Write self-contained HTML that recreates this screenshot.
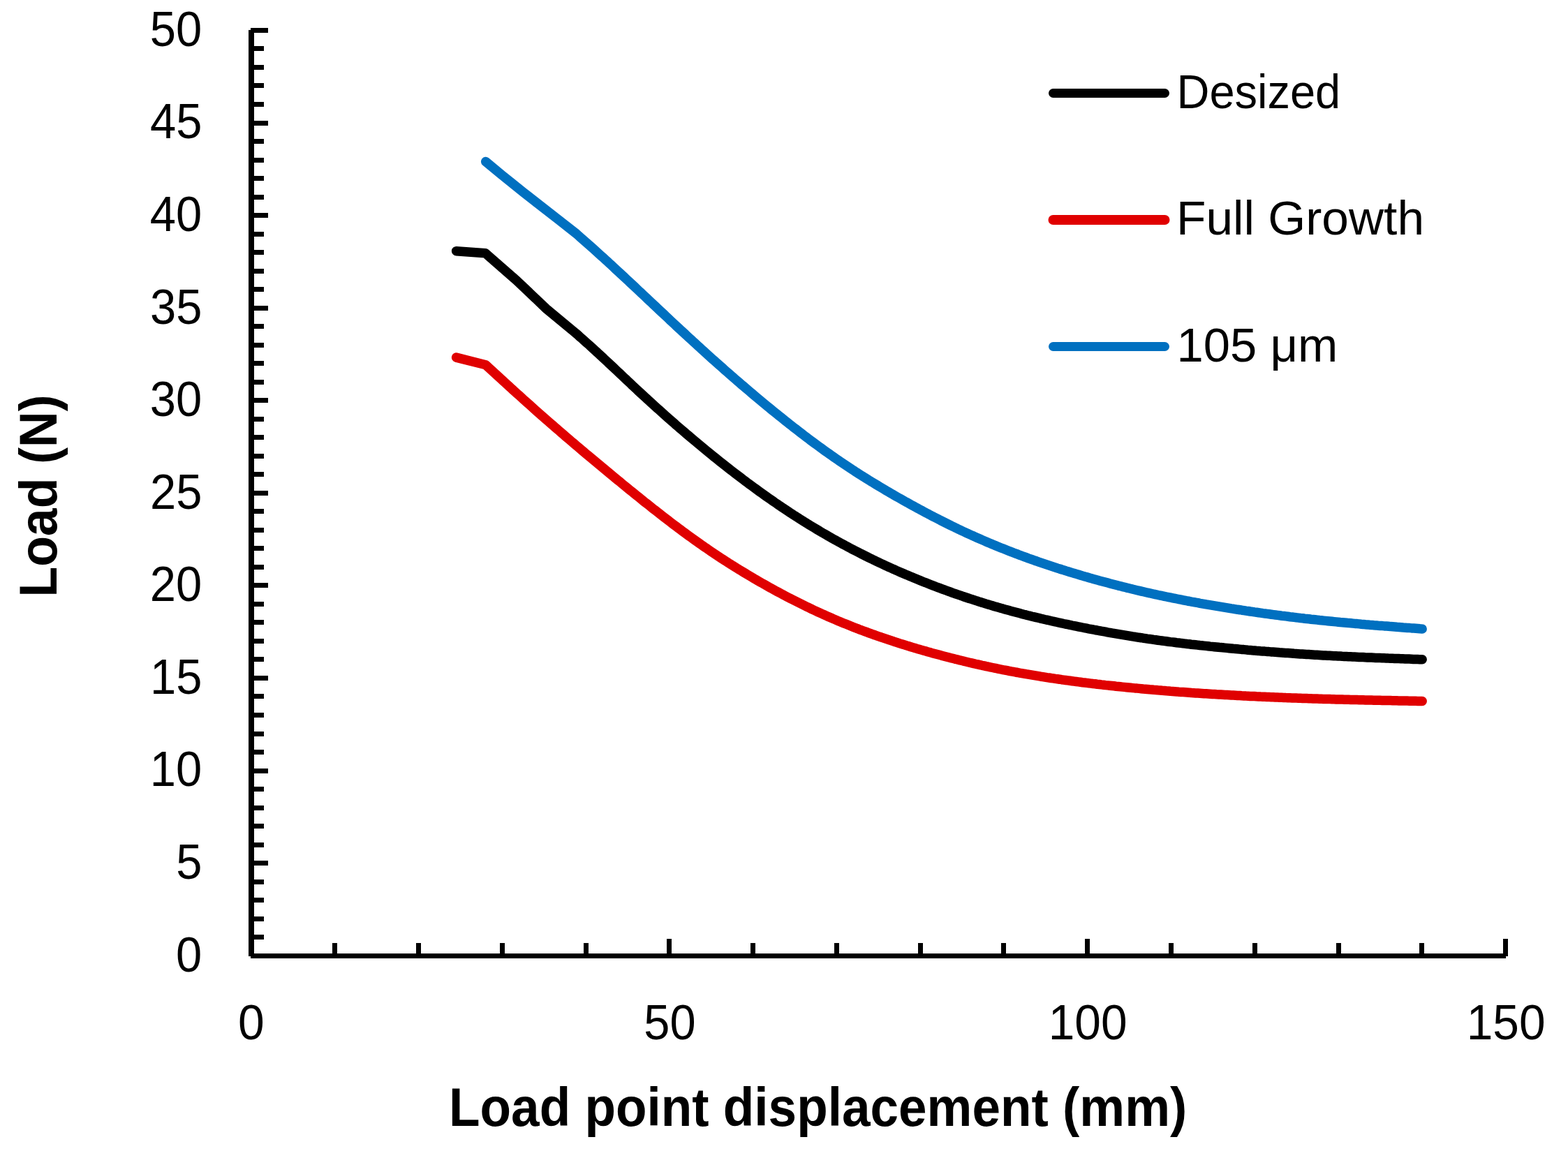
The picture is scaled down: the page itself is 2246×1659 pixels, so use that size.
<!DOCTYPE html>
<html><head><meta charset="utf-8"><title>Load vs load point displacement</title>
<style>
html,body{margin:0;padding:0;background:#fff;}
body{width:2246px;height:1659px;overflow:hidden;}
svg{display:block;}
</style></head>
<body>
<svg width="2246" height="1659" viewBox="0 0 2246 1659">
<rect width="2246" height="1659" fill="#fff"/>
<g fill="#000" shape-rendering="crispEdges"><rect x="356" y="43" width="8" height="1327"/><rect x="359" y="1366" width="1798" height="7"/><rect x="359" y="1339" width="19" height="7"/><rect x="359" y="1313" width="19" height="7"/><rect x="359" y="1286" width="19" height="7"/><rect x="359" y="1260" width="19" height="7"/><rect x="359" y="1233" width="25" height="7"/><rect x="359" y="1207" width="19" height="7"/><rect x="359" y="1180" width="19" height="7"/><rect x="359" y="1154" width="19" height="7"/><rect x="359" y="1127" width="19" height="7"/><rect x="359" y="1101" width="25" height="7"/><rect x="359" y="1074" width="19" height="7"/><rect x="359" y="1048" width="19" height="7"/><rect x="359" y="1021" width="19" height="7"/><rect x="359" y="994" width="19" height="7"/><rect x="359" y="968" width="25" height="7"/><rect x="359" y="941" width="19" height="7"/><rect x="359" y="915" width="19" height="7"/><rect x="359" y="888" width="19" height="7"/><rect x="359" y="862" width="19" height="7"/><rect x="359" y="835" width="25" height="7"/><rect x="359" y="809" width="19" height="7"/><rect x="359" y="782" width="19" height="7"/><rect x="359" y="756" width="19" height="7"/><rect x="359" y="729" width="19" height="7"/><rect x="359" y="703" width="25" height="7"/><rect x="359" y="676" width="19" height="7"/><rect x="359" y="650" width="19" height="7"/><rect x="359" y="623" width="19" height="7"/><rect x="359" y="597" width="19" height="7"/><rect x="359" y="570" width="25" height="7"/><rect x="359" y="544" width="19" height="7"/><rect x="359" y="517" width="19" height="7"/><rect x="359" y="491" width="19" height="7"/><rect x="359" y="464" width="19" height="7"/><rect x="359" y="438" width="25" height="7"/><rect x="359" y="411" width="19" height="7"/><rect x="359" y="385" width="19" height="7"/><rect x="359" y="358" width="19" height="7"/><rect x="359" y="332" width="19" height="7"/><rect x="359" y="305" width="25" height="7"/><rect x="359" y="279" width="19" height="7"/><rect x="359" y="252" width="19" height="7"/><rect x="359" y="226" width="19" height="7"/><rect x="359" y="199" width="19" height="7"/><rect x="359" y="173" width="25" height="7"/><rect x="359" y="146" width="19" height="7"/><rect x="359" y="119" width="19" height="7"/><rect x="359" y="93" width="19" height="7"/><rect x="359" y="66" width="19" height="7"/><rect x="359" y="40" width="25" height="7"/><rect x="476" y="1351" width="7" height="19"/><rect x="596" y="1351" width="7" height="19"/><rect x="716" y="1351" width="7" height="19"/><rect x="836" y="1351" width="7" height="19"/><rect x="955" y="1345" width="7" height="25"/><rect x="1075" y="1351" width="7" height="19"/><rect x="1195" y="1351" width="7" height="19"/><rect x="1315" y="1351" width="7" height="19"/><rect x="1434" y="1351" width="7" height="19"/><rect x="1554" y="1345" width="7" height="25"/><rect x="1674" y="1351" width="7" height="19"/><rect x="1794" y="1351" width="7" height="19"/><rect x="1914" y="1351" width="7" height="19"/><rect x="2033" y="1351" width="7" height="19"/><rect x="2153" y="1345" width="7" height="25"/></g>
<path d="M653.6 359.7 695.4 362.8 740.0 401.8 782.7 442.5 824.5 477.1 827.5 479.7 830.5 482.4 833.5 485.0 836.5 487.7 839.5 490.4 842.5 493.0 845.5 495.7 848.5 498.5 851.5 501.2 854.5 504.0 857.5 506.7 860.5 509.5 863.5 512.3 866.5 515.1 869.5 517.9 872.5 520.7 875.5 523.5 878.5 526.3 881.5 529.1 884.5 532.0 887.5 534.8 890.5 537.6 893.5 540.5 896.5 543.3 899.5 546.1 902.5 548.9 905.5 551.8 908.5 554.6 911.5 557.4 914.5 560.2 917.5 563.0 920.5 565.8 923.5 568.5 926.5 571.3 929.5 574.0 932.5 576.8 935.5 579.5 938.5 582.2 941.5 584.9 944.5 587.6 947.5 590.3 950.5 593.0 953.5 595.7 956.5 598.3 959.5 601.0 962.5 603.6 965.5 606.2 968.5 608.9 971.5 611.5 974.5 614.1 977.5 616.6 980.5 619.2 983.5 621.8 986.5 624.3 989.5 626.9 992.5 629.4 995.5 631.9 998.5 634.4 1001.5 636.9 1004.5 639.4 1007.5 641.9 1010.5 644.4 1013.5 646.9 1016.5 649.3 1019.5 651.7 1022.5 654.2 1025.5 656.6 1028.5 659.0 1031.5 661.4 1034.5 663.8 1037.5 666.1 1040.5 668.5 1043.5 670.8 1046.5 673.2 1049.5 675.5 1052.5 677.8 1055.5 680.1 1058.5 682.4 1061.5 684.7 1064.5 687.0 1067.5 689.2 1070.5 691.5 1073.5 693.7 1076.5 695.9 1079.5 698.1 1082.5 700.3 1085.5 702.5 1088.5 704.7 1091.5 706.8 1094.5 709.0 1097.5 711.1 1100.5 713.2 1103.5 715.3 1106.5 717.4 1109.5 719.5 1112.5 721.5 1115.5 723.6 1118.5 725.6 1121.5 727.7 1124.5 729.7 1127.5 731.7 1130.5 733.7 1133.5 735.6 1136.5 737.6 1139.5 739.5 1142.5 741.4 1145.5 743.4 1148.5 745.3 1151.5 747.1 1154.5 749.0 1157.5 750.9 1160.5 752.7 1163.5 754.5 1166.5 756.3 1169.5 758.1 1172.5 759.9 1175.5 761.7 1178.5 763.5 1181.5 765.2 1184.5 766.9 1187.5 768.7 1190.5 770.4 1193.5 772.1 1196.5 773.7 1199.5 775.4 1202.5 777.0 1205.5 778.7 1208.5 780.3 1211.5 781.9 1214.5 783.5 1217.5 785.1 1220.5 786.7 1223.5 788.3 1226.5 789.8 1229.5 791.3 1232.5 792.9 1235.5 794.4 1238.5 795.9 1241.5 797.4 1244.5 798.9 1247.5 800.3 1250.5 801.8 1253.5 803.2 1256.5 804.7 1259.5 806.1 1262.5 807.5 1265.5 808.9 1268.5 810.3 1271.5 811.7 1274.5 813.0 1277.5 814.4 1280.5 815.7 1283.5 817.1 1286.5 818.4 1289.5 819.7 1292.5 821.0 1295.5 822.3 1298.5 823.6 1301.5 824.8 1304.5 826.1 1307.5 827.3 1310.5 828.6 1313.5 829.8 1316.5 831.0 1319.5 832.3 1322.5 833.5 1325.5 834.6 1328.5 835.8 1331.5 837.0 1334.5 838.2 1337.5 839.3 1340.5 840.5 1343.5 841.6 1346.5 842.7 1349.5 843.8 1352.5 844.9 1355.5 846.0 1358.5 847.1 1361.5 848.2 1364.5 849.3 1367.5 850.3 1370.5 851.4 1373.5 852.4 1376.5 853.4 1379.5 854.5 1382.5 855.5 1385.5 856.5 1388.5 857.5 1391.5 858.4 1394.5 859.4 1397.5 860.4 1400.5 861.3 1403.5 862.3 1406.5 863.2 1409.5 864.1 1412.5 865.1 1415.5 866.0 1418.5 866.9 1421.5 867.8 1424.5 868.7 1427.5 869.5 1430.5 870.4 1433.5 871.3 1436.5 872.1 1439.5 873.0 1442.5 873.8 1445.5 874.6 1448.5 875.4 1451.5 876.2 1454.5 877.0 1457.5 877.8 1460.5 878.6 1463.5 879.4 1466.5 880.2 1469.5 880.9 1472.5 881.7 1475.5 882.4 1478.5 883.2 1481.5 883.9 1484.5 884.6 1487.5 885.3 1490.5 886.1 1493.5 886.8 1496.5 887.5 1499.5 888.1 1502.5 888.8 1505.5 889.5 1508.5 890.2 1511.5 890.8 1514.5 891.5 1517.5 892.2 1520.5 892.8 1523.5 893.5 1526.5 894.1 1529.5 894.7 1532.5 895.3 1535.5 896.0 1538.5 896.6 1541.5 897.2 1544.5 897.8 1547.5 898.4 1550.5 899.0 1553.5 899.6 1556.5 900.2 1559.5 900.8 1562.5 901.3 1565.5 901.9 1568.5 902.5 1571.5 903.0 1574.5 903.6 1577.5 904.2 1580.5 904.7 1583.5 905.2 1586.5 905.8 1589.5 906.3 1592.5 906.9 1595.5 907.4 1598.5 907.9 1601.5 908.4 1604.5 908.9 1607.5 909.4 1610.5 909.9 1613.5 910.4 1616.5 910.9 1619.5 911.4 1622.5 911.9 1625.5 912.3 1628.5 912.8 1631.5 913.3 1634.5 913.7 1637.5 914.2 1640.5 914.6 1643.5 915.1 1646.5 915.5 1649.5 915.9 1652.5 916.4 1655.5 916.8 1658.5 917.2 1661.5 917.6 1664.5 918.0 1667.5 918.4 1670.5 918.8 1673.5 919.2 1676.5 919.6 1679.5 919.9 1682.5 920.3 1685.5 920.7 1688.5 921.0 1691.5 921.4 1694.5 921.8 1697.5 922.1 1700.5 922.5 1703.5 922.8 1706.5 923.2 1709.5 923.5 1712.5 923.8 1715.5 924.1 1718.5 924.5 1721.5 924.8 1724.5 925.1 1727.5 925.4 1730.5 925.7 1733.5 926.1 1736.5 926.4 1739.5 926.7 1742.5 927.0 1745.5 927.3 1748.5 927.6 1751.5 927.8 1754.5 928.1 1757.5 928.4 1760.5 928.7 1763.5 929.0 1766.5 929.3 1769.5 929.5 1772.5 929.8 1775.5 930.1 1778.5 930.4 1781.5 930.6 1784.5 930.9 1787.5 931.2 1790.5 931.4 1793.5 931.7 1796.5 931.9 1799.5 932.2 1802.5 932.4 1805.5 932.7 1808.5 932.9 1811.5 933.1 1814.5 933.4 1817.5 933.6 1820.5 933.9 1823.5 934.1 1826.5 934.3 1829.5 934.5 1832.5 934.8 1835.5 935.0 1838.5 935.2 1841.5 935.4 1844.5 935.6 1847.5 935.8 1850.5 936.0 1853.5 936.3 1856.5 936.5 1859.5 936.7 1862.5 936.9 1865.5 937.0 1868.5 937.2 1871.5 937.4 1874.5 937.6 1877.5 937.8 1880.5 938.0 1883.5 938.2 1886.5 938.3 1889.5 938.5 1892.5 938.7 1895.5 938.9 1898.5 939.0 1901.5 939.2 1904.5 939.3 1907.5 939.5 1910.5 939.7 1913.5 939.8 1916.5 940.0 1919.5 940.1 1922.5 940.3 1925.5 940.4 1928.5 940.5 1931.5 940.7 1934.5 940.8 1937.5 941.0 1940.5 941.1 1943.5 941.2 1946.5 941.4 1949.5 941.5 1952.5 941.6 1955.5 941.8 1958.5 941.9 1961.5 942.0 1964.5 942.1 1967.5 942.2 1970.5 942.4 1973.5 942.5 1976.5 942.6 1979.5 942.7 1982.5 942.8 1985.5 942.9 1988.5 943.1 1991.5 943.2 1994.5 943.3 1997.5 943.4 2000.5 943.5 2003.5 943.6 2006.5 943.7 2009.5 943.8 2012.5 943.9 2015.5 944.0 2018.5 944.1 2021.5 944.2 2024.5 944.4 2027.5 944.5 2030.5 944.6 2033.5 944.7 2036.5 944.8 2037.2 944.8" stroke="#000" stroke-width="13.5" fill="none" stroke-linecap="round" stroke-linejoin="round"/>
<path d="M653.6 512.1 695.7 522.7 698.7 525.5 701.7 528.2 704.7 531.0 707.7 533.7 710.7 536.5 713.7 539.3 716.7 542.0 719.7 544.8 722.7 547.5 725.7 550.2 728.7 553.0 731.7 555.7 734.7 558.5 737.7 561.2 740.7 563.9 743.7 566.6 746.7 569.3 749.7 572.1 752.7 574.8 755.7 577.4 758.7 580.1 761.7 582.8 764.7 585.5 767.7 588.2 770.7 590.8 773.7 593.5 776.7 596.1 779.7 598.8 782.7 601.4 785.7 604.0 788.7 606.6 791.7 609.2 794.7 611.8 797.7 614.4 800.7 617.0 803.7 619.6 806.7 622.2 809.7 624.8 812.7 627.4 815.7 629.9 818.7 632.5 821.7 635.0 824.7 637.6 827.7 640.1 830.7 642.7 833.7 645.2 836.7 647.7 839.7 650.3 842.7 652.8 845.7 655.3 848.7 657.8 851.7 660.3 854.7 662.8 857.7 665.3 860.7 667.8 863.7 670.3 866.7 672.8 869.7 675.3 872.7 677.8 875.7 680.3 878.7 682.7 881.7 685.2 884.7 687.7 887.7 690.1 890.7 692.6 893.7 695.1 896.7 697.5 899.7 700.0 902.7 702.4 905.7 704.8 908.7 707.3 911.7 709.7 914.7 712.1 917.7 714.5 920.7 717.0 923.7 719.4 926.7 721.7 929.7 724.1 932.7 726.5 935.7 728.9 938.7 731.2 941.7 733.6 944.7 735.9 947.7 738.3 950.7 740.6 953.7 742.9 956.7 745.2 959.7 747.5 962.7 749.8 965.7 752.1 968.7 754.3 971.7 756.6 974.7 758.8 977.7 761.1 980.7 763.3 983.7 765.5 986.7 767.7 989.7 769.8 992.7 772.0 995.7 774.1 998.7 776.3 1001.7 778.4 1004.7 780.5 1007.7 782.6 1010.7 784.7 1013.7 786.7 1016.7 788.8 1019.7 790.8 1022.7 792.8 1025.7 794.8 1028.7 796.8 1031.7 798.8 1034.7 800.8 1037.7 802.7 1040.7 804.6 1043.7 806.6 1046.7 808.5 1049.7 810.4 1052.7 812.2 1055.7 814.1 1058.7 816.0 1061.7 817.8 1064.7 819.6 1067.7 821.4 1070.7 823.2 1073.7 825.0 1076.7 826.8 1079.7 828.6 1082.7 830.3 1085.7 832.1 1088.7 833.8 1091.7 835.5 1094.7 837.2 1097.7 838.9 1100.7 840.6 1103.7 842.3 1106.7 843.9 1109.7 845.6 1112.7 847.2 1115.7 848.8 1118.7 850.4 1121.7 852.0 1124.7 853.6 1127.7 855.2 1130.7 856.7 1133.7 858.3 1136.7 859.8 1139.7 861.3 1142.7 862.8 1145.7 864.3 1148.7 865.8 1151.7 867.3 1154.7 868.8 1157.7 870.2 1160.7 871.6 1163.7 873.1 1166.7 874.5 1169.7 875.9 1172.7 877.3 1175.7 878.6 1178.7 880.0 1181.7 881.3 1184.7 882.7 1187.7 884.0 1190.7 885.3 1193.7 886.6 1196.7 887.9 1199.7 889.2 1202.7 890.4 1205.7 891.7 1208.7 892.9 1211.7 894.1 1214.7 895.3 1217.7 896.5 1220.7 897.7 1223.7 898.9 1226.7 900.1 1229.7 901.2 1232.7 902.4 1235.7 903.5 1238.7 904.6 1241.7 905.7 1244.7 906.8 1247.7 907.9 1250.7 909.0 1253.7 910.0 1256.7 911.1 1259.7 912.1 1262.7 913.2 1265.7 914.2 1268.7 915.2 1271.7 916.2 1274.7 917.2 1277.7 918.2 1280.7 919.2 1283.7 920.1 1286.7 921.1 1289.7 922.1 1292.7 923.0 1295.7 923.9 1298.7 924.9 1301.7 925.8 1304.7 926.7 1307.7 927.6 1310.7 928.5 1313.7 929.4 1316.7 930.2 1319.7 931.1 1322.7 932.0 1325.7 932.8 1328.7 933.7 1331.7 934.5 1334.7 935.4 1337.7 936.2 1340.7 937.0 1343.7 937.8 1346.7 938.6 1349.7 939.4 1352.7 940.2 1355.7 941.0 1358.7 941.8 1361.7 942.6 1364.7 943.3 1367.7 944.1 1370.7 944.8 1373.7 945.6 1376.7 946.3 1379.7 947.0 1382.7 947.8 1385.7 948.5 1388.7 949.2 1391.7 949.9 1394.7 950.6 1397.7 951.3 1400.7 951.9 1403.7 952.6 1406.7 953.3 1409.7 953.9 1412.7 954.6 1415.7 955.2 1418.7 955.9 1421.7 956.5 1424.7 957.1 1427.7 957.7 1430.7 958.4 1433.7 959.0 1436.7 959.6 1439.7 960.1 1442.7 960.7 1445.7 961.3 1448.7 961.9 1451.7 962.4 1454.7 963.0 1457.7 963.5 1460.7 964.1 1463.7 964.6 1466.7 965.1 1469.7 965.7 1472.7 966.2 1475.7 966.7 1478.7 967.2 1481.7 967.7 1484.7 968.2 1487.7 968.7 1490.7 969.2 1493.7 969.6 1496.7 970.1 1499.7 970.6 1502.7 971.0 1505.7 971.5 1508.7 971.9 1511.7 972.4 1514.7 972.8 1517.7 973.2 1520.7 973.7 1523.7 974.1 1526.7 974.5 1529.7 974.9 1532.7 975.3 1535.7 975.7 1538.7 976.1 1541.7 976.5 1544.7 976.9 1547.7 977.3 1550.7 977.7 1553.7 978.0 1556.7 978.4 1559.7 978.8 1562.7 979.1 1565.7 979.5 1568.7 979.8 1571.7 980.2 1574.7 980.5 1577.7 980.9 1580.7 981.2 1583.7 981.6 1586.7 981.9 1589.7 982.2 1592.7 982.5 1595.7 982.8 1598.7 983.2 1601.7 983.5 1604.7 983.8 1607.7 984.1 1610.7 984.4 1613.7 984.7 1616.7 985.0 1619.7 985.3 1622.7 985.6 1625.7 985.9 1628.7 986.1 1631.7 986.4 1634.7 986.7 1637.7 987.0 1640.7 987.2 1643.7 987.5 1646.7 987.8 1649.7 988.0 1652.7 988.3 1655.7 988.5 1658.7 988.8 1661.7 989.0 1664.7 989.3 1667.7 989.5 1670.7 989.8 1673.7 990.0 1676.7 990.3 1679.7 990.5 1682.7 990.7 1685.7 990.9 1688.7 991.2 1691.7 991.4 1694.7 991.6 1697.7 991.8 1700.7 992.0 1703.7 992.2 1706.7 992.5 1709.7 992.7 1712.7 992.9 1715.7 993.1 1718.7 993.3 1721.7 993.5 1724.7 993.7 1727.7 993.8 1730.7 994.0 1733.7 994.2 1736.7 994.4 1739.7 994.6 1742.7 994.8 1745.7 994.9 1748.7 995.1 1751.7 995.3 1754.7 995.5 1757.7 995.6 1760.7 995.8 1763.7 996.0 1766.7 996.1 1769.7 996.3 1772.7 996.5 1775.7 996.6 1778.7 996.8 1781.7 996.9 1784.7 997.1 1787.7 997.2 1790.7 997.4 1793.7 997.5 1796.7 997.6 1799.7 997.8 1802.7 997.9 1805.7 998.1 1808.7 998.2 1811.7 998.3 1814.7 998.5 1817.7 998.6 1820.7 998.7 1823.7 998.8 1826.7 999.0 1829.7 999.1 1832.7 999.2 1835.7 999.3 1838.7 999.4 1841.7 999.6 1844.7 999.7 1847.7 999.8 1850.7 999.9 1853.7 1000.0 1856.7 1000.1 1859.7 1000.2 1862.7 1000.3 1865.7 1000.4 1868.7 1000.5 1871.7 1000.6 1874.7 1000.7 1877.7 1000.8 1880.7 1000.9 1883.7 1001.0 1886.7 1001.1 1889.7 1001.2 1892.7 1001.3 1895.7 1001.4 1898.7 1001.5 1901.7 1001.5 1904.7 1001.6 1907.7 1001.7 1910.7 1001.8 1913.7 1001.9 1916.7 1002.0 1919.7 1002.0 1922.7 1002.1 1925.7 1002.2 1928.7 1002.3 1931.7 1002.3 1934.7 1002.4 1937.7 1002.5 1940.7 1002.6 1943.7 1002.6 1946.7 1002.7 1949.7 1002.8 1952.7 1002.8 1955.7 1002.9 1958.7 1003.0 1961.7 1003.0 1964.7 1003.1 1967.7 1003.2 1970.7 1003.2 1973.7 1003.3 1976.7 1003.3 1979.7 1003.4 1982.7 1003.5 1985.7 1003.5 1988.7 1003.6 1991.7 1003.6 1994.7 1003.7 1997.7 1003.8 2000.7 1003.8 2003.7 1003.9 2006.7 1003.9 2009.7 1004.0 2012.7 1004.0 2015.7 1004.1 2018.7 1004.2 2021.7 1004.2 2024.7 1004.3 2027.7 1004.3 2030.7 1004.4 2033.7 1004.4 2036.7 1004.5 2037.2 1004.5" stroke="#E00000" stroke-width="13.5" fill="none" stroke-linecap="round" stroke-linejoin="round"/>
<path d="M695.7 231.5 720.0 251.6 750.0 275.7 800.0 314.8 825.0 334.4 828.0 337.0 831.0 339.7 834.0 342.3 837.0 345.0 840.0 347.6 843.0 350.3 846.0 352.9 849.0 355.6 852.0 358.3 855.0 361.0 858.0 363.7 861.0 366.4 864.0 369.1 867.0 371.9 870.0 374.6 873.0 377.4 876.0 380.1 879.0 382.9 882.0 385.7 885.0 388.4 888.0 391.2 891.0 394.0 894.0 396.8 897.0 399.6 900.0 402.4 903.0 405.2 906.0 408.0 909.0 410.8 912.0 413.6 915.0 416.5 918.0 419.3 921.0 422.1 924.0 424.9 927.0 427.7 930.0 430.6 933.0 433.4 936.0 436.2 939.0 439.0 942.0 441.9 945.0 444.7 948.0 447.5 951.0 450.3 954.0 453.1 957.0 455.9 960.0 458.8 963.0 461.6 966.0 464.4 969.0 467.2 972.0 470.0 975.0 472.7 978.0 475.5 981.0 478.3 984.0 481.1 987.0 483.9 990.0 486.6 993.0 489.4 996.0 492.1 999.0 494.9 1002.0 497.6 1005.0 500.4 1008.0 503.1 1011.0 505.8 1014.0 508.5 1017.0 511.2 1020.0 513.9 1023.0 516.6 1026.0 519.3 1029.0 521.9 1032.0 524.6 1035.0 527.2 1038.0 529.9 1041.0 532.5 1044.0 535.1 1047.0 537.8 1050.0 540.4 1053.0 543.0 1056.0 545.6 1059.0 548.2 1062.0 550.8 1065.0 553.3 1068.0 555.9 1071.0 558.4 1074.0 561.0 1077.0 563.5 1080.0 566.1 1083.0 568.6 1086.0 571.1 1089.0 573.6 1092.0 576.1 1095.0 578.6 1098.0 581.1 1101.0 583.5 1104.0 586.0 1107.0 588.4 1110.0 590.9 1113.0 593.3 1116.0 595.7 1119.0 598.1 1122.0 600.5 1125.0 602.9 1128.0 605.3 1131.0 607.7 1134.0 610.0 1137.0 612.4 1140.0 614.7 1143.0 617.1 1146.0 619.4 1149.0 621.7 1152.0 624.0 1155.0 626.2 1158.0 628.5 1161.0 630.8 1164.0 633.0 1167.0 635.2 1170.0 637.4 1173.0 639.6 1176.0 641.8 1179.0 644.0 1182.0 646.2 1185.0 648.3 1188.0 650.4 1191.0 652.5 1194.0 654.6 1197.0 656.7 1200.0 658.8 1203.0 660.9 1206.0 662.9 1209.0 664.9 1212.0 666.9 1215.0 668.9 1218.0 670.9 1221.0 672.9 1224.0 674.8 1227.0 676.8 1230.0 678.7 1233.0 680.6 1236.0 682.5 1239.0 684.4 1242.0 686.2 1245.0 688.1 1248.0 690.0 1251.0 691.8 1254.0 693.6 1257.0 695.4 1260.0 697.2 1263.0 699.0 1266.0 700.8 1269.0 702.6 1272.0 704.3 1275.0 706.1 1278.0 707.8 1281.0 709.6 1284.0 711.3 1287.0 713.0 1290.0 714.7 1293.0 716.4 1296.0 718.1 1299.0 719.7 1302.0 721.4 1305.0 723.1 1308.0 724.7 1311.0 726.4 1314.0 728.0 1317.0 729.6 1320.0 731.2 1323.0 732.9 1326.0 734.5 1329.0 736.0 1332.0 737.6 1335.0 739.2 1338.0 740.8 1341.0 742.3 1344.0 743.8 1347.0 745.4 1350.0 746.9 1353.0 748.4 1356.0 749.9 1359.0 751.4 1362.0 752.9 1365.0 754.3 1368.0 755.8 1371.0 757.2 1374.0 758.7 1377.0 760.1 1380.0 761.5 1383.0 762.9 1386.0 764.3 1389.0 765.6 1392.0 767.0 1395.0 768.3 1398.0 769.7 1401.0 771.0 1404.0 772.3 1407.0 773.6 1410.0 774.9 1413.0 776.2 1416.0 777.5 1419.0 778.7 1422.0 780.0 1425.0 781.2 1428.0 782.5 1431.0 783.7 1434.0 784.9 1437.0 786.1 1440.0 787.3 1443.0 788.5 1446.0 789.7 1449.0 790.8 1452.0 792.0 1455.0 793.1 1458.0 794.2 1461.0 795.4 1464.0 796.5 1467.0 797.6 1470.0 798.7 1473.0 799.8 1476.0 800.8 1479.0 801.9 1482.0 803.0 1485.0 804.0 1488.0 805.1 1491.0 806.1 1494.0 807.1 1497.0 808.1 1500.0 809.1 1503.0 810.1 1506.0 811.1 1509.0 812.1 1512.0 813.1 1515.0 814.1 1518.0 815.0 1521.0 816.0 1524.0 816.9 1527.0 817.9 1530.0 818.8 1533.0 819.7 1536.0 820.6 1539.0 821.5 1542.0 822.4 1545.0 823.3 1548.0 824.2 1551.0 825.1 1554.0 826.0 1557.0 826.8 1560.0 827.7 1563.0 828.6 1566.0 829.4 1569.0 830.2 1572.0 831.1 1575.0 831.9 1578.0 832.7 1581.0 833.5 1584.0 834.3 1587.0 835.1 1590.0 835.9 1593.0 836.7 1596.0 837.5 1599.0 838.3 1602.0 839.1 1605.0 839.8 1608.0 840.6 1611.0 841.3 1614.0 842.1 1617.0 842.8 1620.0 843.5 1623.0 844.3 1626.0 845.0 1629.0 845.7 1632.0 846.4 1635.0 847.1 1638.0 847.8 1641.0 848.5 1644.0 849.2 1647.0 849.8 1650.0 850.5 1653.0 851.2 1656.0 851.8 1659.0 852.5 1662.0 853.1 1665.0 853.7 1668.0 854.4 1671.0 855.0 1674.0 855.6 1677.0 856.2 1680.0 856.8 1683.0 857.4 1686.0 858.0 1689.0 858.6 1692.0 859.2 1695.0 859.8 1698.0 860.4 1701.0 861.0 1704.0 861.5 1707.0 862.1 1710.0 862.6 1713.0 863.2 1716.0 863.7 1719.0 864.3 1722.0 864.8 1725.0 865.3 1728.0 865.9 1731.0 866.4 1734.0 866.9 1737.0 867.4 1740.0 867.9 1743.0 868.4 1746.0 868.9 1749.0 869.4 1752.0 869.9 1755.0 870.4 1758.0 870.9 1761.0 871.4 1764.0 871.9 1767.0 872.3 1770.0 872.8 1773.0 873.3 1776.0 873.7 1779.0 874.2 1782.0 874.6 1785.0 875.1 1788.0 875.5 1791.0 876.0 1794.0 876.4 1797.0 876.9 1800.0 877.3 1803.0 877.7 1806.0 878.1 1809.0 878.6 1812.0 879.0 1815.0 879.4 1818.0 879.8 1821.0 880.2 1824.0 880.6 1827.0 881.0 1830.0 881.4 1833.0 881.8 1836.0 882.2 1839.0 882.5 1842.0 882.9 1845.0 883.3 1848.0 883.7 1851.0 884.0 1854.0 884.4 1857.0 884.8 1860.0 885.1 1863.0 885.5 1866.0 885.8 1869.0 886.2 1872.0 886.5 1875.0 886.8 1878.0 887.2 1881.0 887.5 1884.0 887.8 1887.0 888.1 1890.0 888.5 1893.0 888.8 1896.0 889.1 1899.0 889.4 1902.0 889.7 1905.0 890.0 1908.0 890.3 1911.0 890.6 1914.0 890.9 1917.0 891.2 1920.0 891.5 1923.0 891.7 1926.0 892.0 1929.0 892.3 1932.0 892.6 1935.0 892.8 1938.0 893.1 1941.0 893.4 1944.0 893.6 1947.0 893.9 1950.0 894.2 1953.0 894.4 1956.0 894.7 1959.0 894.9 1962.0 895.2 1965.0 895.4 1968.0 895.7 1971.0 895.9 1974.0 896.2 1977.0 896.4 1980.0 896.6 1983.0 896.9 1986.0 897.1 1989.0 897.3 1992.0 897.6 1995.0 897.8 1998.0 898.0 2001.0 898.3 2004.0 898.5 2007.0 898.7 2010.0 899.0 2013.0 899.2 2016.0 899.4 2019.0 899.6 2022.0 899.9 2025.0 900.1 2028.0 900.3 2031.0 900.5 2034.0 900.8 2037.0 901.0 2037.2 901.0" stroke="#0070C0" stroke-width="13.5" fill="none" stroke-linecap="round" stroke-linejoin="round"/>
<path d="M1508.5 133.5H1668.5" stroke="#000" stroke-width="13.0" stroke-linecap="round"/>
<path d="M1508.5 315.0H1668.5" stroke="#E00000" stroke-width="14.0" stroke-linecap="round"/>
<path d="M1508.5 496.5H1668.5" stroke="#0070C0" stroke-width="13.0" stroke-linecap="round"/>
<g font-family="'Liberation Sans', Arial, sans-serif" fill="#000">
<text transform="translate(252.04 1391.58) scale(0.9490 1)" font-size="70.5">0</text>
<text transform="translate(252.31 1259.00) scale(0.9490 1)" font-size="70.5">5</text>
<text transform="translate(214.84 1126.42) scale(0.9490 1)" font-size="70.5">10</text>
<text transform="translate(215.11 993.85) scale(0.9490 1)" font-size="70.5">15</text>
<text transform="translate(214.84 861.27) scale(0.9490 1)" font-size="70.5">20</text>
<text transform="translate(215.11 728.70) scale(0.9490 1)" font-size="70.5">25</text>
<text transform="translate(214.84 596.12) scale(0.9490 1)" font-size="70.5">30</text>
<text transform="translate(215.11 463.55) scale(0.9490 1)" font-size="70.5">35</text>
<text transform="translate(214.84 330.98) scale(0.9490 1)" font-size="70.5">40</text>
<text transform="translate(215.11 198.40) scale(0.9490 1)" font-size="70.5">45</text>
<text transform="translate(214.84 65.83) scale(0.9490 1)" font-size="70.5">50</text>
<text transform="translate(340.89 1488.60) scale(0.9615 1)" font-size="70.5">0</text>
<text transform="translate(922.23 1488.60) scale(0.9479 1)" font-size="70.5">50</text>
<text transform="translate(1501.76 1488.60) scale(0.9593 1)" font-size="70.5">100</text>
<text transform="translate(2100.76 1488.60) scale(0.9593 1)" font-size="70.5">150</text>
<text transform="translate(1685.47 154.80) scale(0.9417 1)" font-size="69.0">Desized</text>
<text transform="translate(1685.11 335.90) scale(1.0063 1)" font-size="69.0">Full Growth</text>
<text transform="translate(1685.57 517.90) scale(0.9970 1)" font-size="69.0">105 μm</text>
<text transform="translate(643.04 1612.90) scale(0.9445 1)" font-size="77.2" font-weight="bold">Load point displacement (mm)</text>
<text transform="translate(81.0 855.57) rotate(-90) scale(0.9305 1)" font-size="76.9" font-weight="bold">Load (N)</text>
</g>
</svg>
</body></html>
